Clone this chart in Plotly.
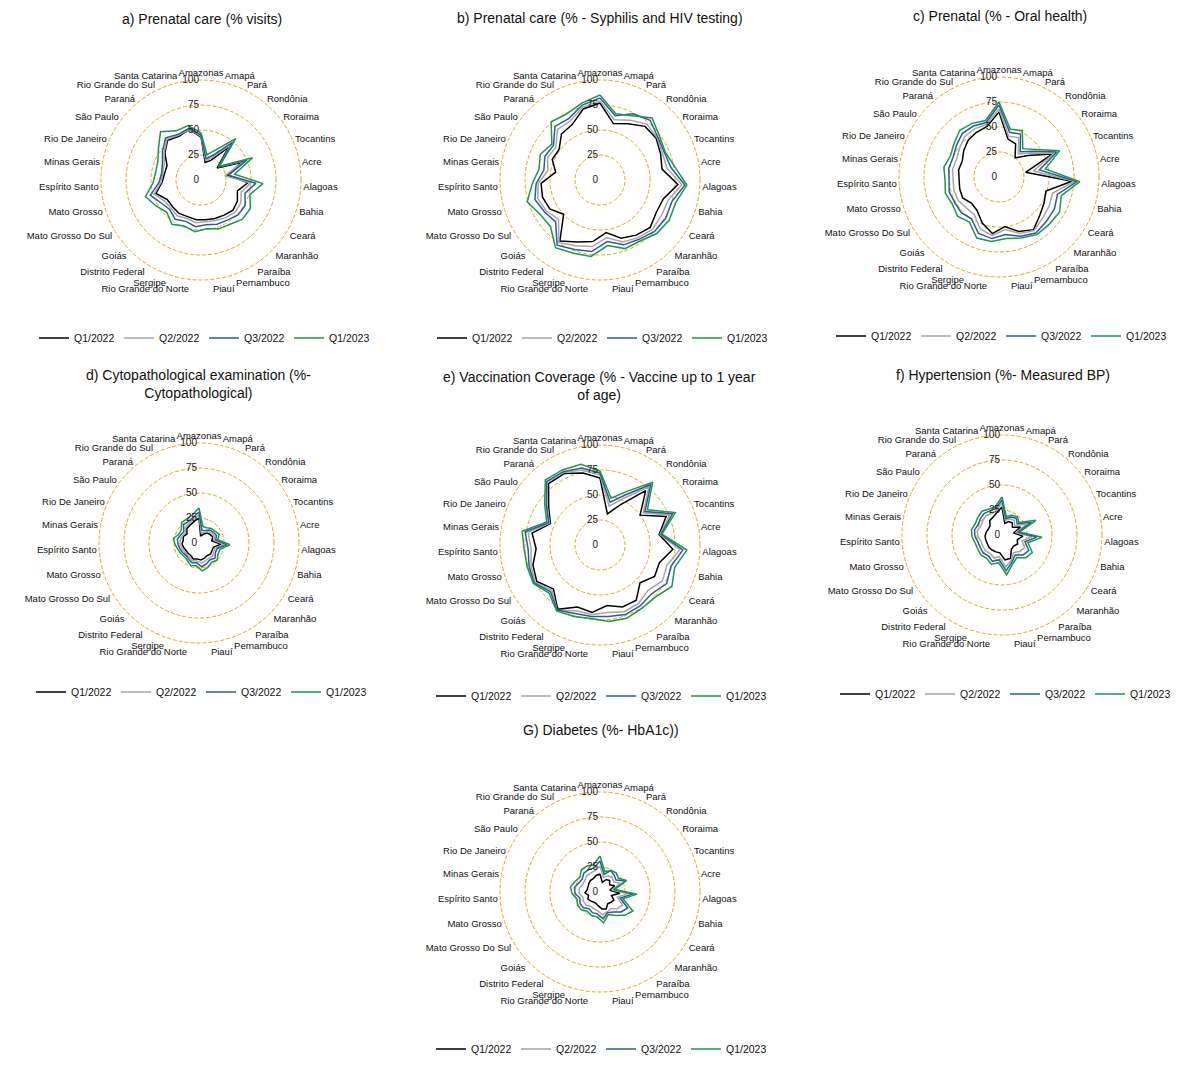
import plotly.graph_objects as go

# Brazilian states, clockwise from the top of each radar
states = ["Amazonas", "Amapá", "Pará", "Rondônia", "Roraima", "Tocantins", "Acre",
          "Alagoas", "Bahia", "Ceará", "Maranhão", "Paraíba", "Pernambuco", "Piauí",
          "Rio Grande do Norte", "Sergipe", "Distrito Federal", "Goiás",
          "Mato Grosso Do Sul", "Mato Grosso", "Espírito Santo", "Minas Gerais",
          "Rio De Janeiro", "São Paulo", "Paraná", "Rio Grande do Sul", "Santa Catarina"]

quarters = ["Q1/2022", "Q2/2022", "Q3/2022", "Q1/2023"]
radial_ticks = [0, 25, 50, 75, 100]

# a) Prenatal care (% visits)
a_q1_2022 = [43, 18, 22, 43, 20, 44, 27, 47, 38, 42, 44, 42, 41, 40, 40, 39, 40, 39, 39, 47, 39, 37, 37, 45, 52, 49, 52]
a_q2_2022 = [44, 20, 25, 46, 22, 47, 24, 50, 42, 46, 47, 45, 43, 42, 43, 41, 43, 41, 42, 49, 40, 39, 40, 46, 53, 50, 52]
a_q3_2022 = [45, 22, 28, 49, 22, 50, 28, 55, 46, 51, 51, 48, 47, 45, 47, 44, 47, 43, 46, 53, 42, 40, 42, 48, 55, 51, 53]
a_q1_2023 = [47, 26, 34, 54, 23, 56, 34, 62, 51, 57, 57, 53, 52, 49, 52, 49, 53, 47, 52, 58, 48, 46, 47, 53, 63, 55, 56]

# b) Prenatal care (% - Syphilis and HIV testing)
b_q1_2022 = [77, 58, 63, 70, 70, 66, 63, 78, 66, 65, 69, 66, 62, 53, 62, 66, 73, 50, 58, 60, 59, 45, 52, 51, 60, 62, 73]
b_q2_2022 = [79, 62, 67, 73, 71, 68, 68, 82, 71, 71, 72, 69, 66, 58, 67, 70, 75, 57, 62, 65, 62, 53, 57, 55, 66, 66, 75]
b_q3_2022 = [82, 66, 74, 78, 72, 70, 72, 85, 75, 76, 75, 71, 69, 62, 72, 74, 78, 61, 64, 68, 64, 57, 60, 58, 70, 69, 77]
b_q1_2023 = [85, 68, 72, 81, 74, 71, 76, 87, 79, 80, 78, 73, 73, 66, 77, 78, 81, 68, 69, 76, 68, 62, 65, 60, 76, 74, 79]

# c) Prenatal (% - Oral health)
c_q1_2022 = [65, 39, 37, 25, 36, 58, 27, 73, 49, 52, 56, 63, 58, 50, 57, 49, 40, 38, 42, 41, 40, 41, 40, 44, 48, 50, 52]
c_q2_2022 = [68, 42, 44, 30, 40, 60, 35, 76, 56, 58, 60, 64, 60, 53, 59, 55, 45, 45, 47, 47, 46, 47, 46, 49, 53, 54, 54]
c_q3_2022 = [72, 46, 48, 33, 43, 63, 41, 78, 61, 64, 65, 67, 63, 58, 62, 60, 50, 52, 51, 52, 50, 51, 50, 53, 57, 57, 56]
c_q1_2023 = [75, 49, 52, 37, 46, 66, 47, 81, 65, 70, 69, 69, 65, 62, 65, 65, 54, 57, 54, 56, 54, 56, 53, 56, 61, 60, 58]

# d) Cytopathological examination
d_q1_2022 = [25, 7, 10, 13, 14, 15, 13, 22, 15, 15, 16, 15, 16, 17, 16, 17, 15, 15, 15, 16, 17, 16, 17, 15, 19, 20, 22]
d_q2_2022 = [28, 10, 12, 15, 16, 17, 15, 25, 17, 17, 19, 18, 19, 20, 18, 19, 17, 17, 17, 18, 19, 19, 18, 17, 21, 22, 24]
d_q3_2022 = [31, 13, 14, 17, 18, 19, 17, 28, 19, 19, 22, 20, 22, 24, 20, 21, 19, 18, 19, 20, 21, 22, 20, 19, 24, 24, 26]
d_q1_2023 = [35, 17, 17, 19, 20, 22, 19, 31, 22, 22, 25, 23, 26, 28, 23, 24, 21, 20, 21, 22, 24, 26, 22, 22, 27, 27, 29]

# e) Vaccination coverage
e_q1_2022 = [67, 32, 45, 71, 50, 72, 60, 73, 62, 63, 55, 66, 66, 61, 68, 66, 77, 64, 73, 70, 64, 69, 54, 64, 80, 80, 74]
e_q2_2022 = [70, 40, 52, 76, 54, 76, 61, 80, 70, 72, 66, 70, 71, 68, 70, 70, 78, 66, 75, 72, 69, 73, 55, 66, 82, 81, 77]
e_q3_2022 = [72, 44, 56, 79, 56, 79, 62, 83, 74, 77, 71, 73, 74, 72, 72, 73, 78, 68, 76, 74, 72, 76, 56, 67, 83, 82, 79]
e_q1_2023 = [74, 48, 60, 82, 59, 82, 63, 87, 78, 83, 76, 76, 78, 77, 74, 76, 79, 70, 77, 76, 76, 79, 58, 69, 85, 84, 83]

# f) Hypertension (%- Measured BP)
f_q1_2022 = [28, 12, 15, 16, 13, 20, 12, 21, 16, 18, 16, 17, 25, 25, 18, 18, 18, 18, 17, 17, 17, 16, 15, 15, 19, 20, 23]
f_q2_2022 = [32, 15, 18, 19, 16, 27, 14, 30, 21, 26, 24, 21, 27, 32, 22, 24, 22, 23, 22, 22, 24, 25, 23, 24, 25, 24, 25]
f_q3_2022 = [35, 17, 20, 22, 19, 32, 16, 35, 24, 31, 29, 24, 29, 36, 25, 28, 25, 26, 25, 25, 27, 28, 26, 27, 28, 27, 27]
f_q1_2023 = [38, 19, 22, 24, 21, 37, 18, 40, 27, 35, 33, 27, 31, 40, 28, 31, 28, 29, 28, 28, 30, 31, 29, 30, 31, 29, 29]

# G) Diabetes (%- HbA1c)
g_q1_2022 = [18, 10, 14, 15, 12, 16, 10, 20, 12, 16, 15, 14, 18, 17, 14, 12, 12, 13, 14, 12, 15, 13, 13, 14, 15, 15, 17]
g_q2_2022 = [26, 15, 18, 19, 17, 22, 12, 28, 18, 26, 24, 20, 21, 23, 19, 18, 17, 19, 19, 18, 21, 21, 19, 19, 21, 21, 22]
g_q3_2022 = [31, 18, 24, 22, 20, 28, 14, 33, 21, 32, 29, 24, 22, 27, 22, 22, 20, 23, 23, 21, 25, 26, 23, 22, 25, 25, 25]
g_q1_2023 = [36, 21, 24, 25, 23, 29, 15, 37, 24, 38, 34, 28, 24, 31, 25, 25, 23, 26, 26, 24, 28, 30, 27, 25, 29, 29, 28]

titles = ["a) Prenatal care (% visits)",
          "b) Prenatal care (% - Syphilis and HIV testing)",
          "c) Prenatal (% - Oral health)",
          "d) Cytopathological examination (%-<br>Cytopathological)",
          "e) Vaccination Coverage (% - Vaccine up to 1 year<br>of age)",
          "f) Hypertension (%- Measured BP)",
          "G) Diabetes (%- HbA1c))"]

series = [[a_q1_2022, a_q2_2022, a_q3_2022, a_q1_2023],
          [b_q1_2022, b_q2_2022, b_q3_2022, b_q1_2023],
          [c_q1_2022, c_q2_2022, c_q3_2022, c_q1_2023],
          [d_q1_2022, d_q2_2022, d_q3_2022, d_q1_2023],
          [e_q1_2022, e_q2_2022, e_q3_2022, e_q1_2023],
          [f_q1_2022, f_q2_2022, f_q3_2022, f_q1_2023],
          [g_q1_2022, g_q2_2022, g_q3_2022, g_q1_2023]]

# Layout geometry: page pixels of the reference; the page body adds an 8px margin
OFF = 8
W, H = 1200 - OFF, 1066 - OFF
R = 102
centers = [(201, 180), (600, 180), (999, 177),
           (199, 543), (600, 545), (1002, 535),
           (600, 892)]
title_pos = [(202, 19), (600, 18), (1000, 16),
             (198, 384), (599, 386), (1003, 375),
             (601, 730)]
legend_pos = [(204, 338), (602, 338), (1001, 336),
              (201, 692), (601, 696), (1005, 694),
              (601, 1049)]

colors = ["#000000", "#A6A6A6", "#2E5C94", "#1E9650"]
font = "Liberation Sans, Arial, sans-serif"
grid_col = "#DDAA22"


def px(x):
    return (x - OFF) / W


def py(y):
    return 1 - (y - OFF) / H


fig = go.Figure()
layout = {}

for i, (title, data) in enumerate(zip(titles, series)):
    pid = "polar" if i == 0 else f"polar{i+1}"
    lid = "legend" if i == 0 else f"legend{i+1}"
    for name, vals, col in zip(quarters, data, colors):
        fig.add_trace(go.Scatterpolar(
            r=vals + vals[:1],
            theta=states + states[:1],
            mode="lines",
            name=name,
            line=dict(color=col, width=1.5),
            subplot=pid,
            legend=lid,
        ))

    cx, cy = centers[i]
    layout[pid] = dict(
        domain=dict(x=[px(cx - R), px(cx + R)],
                    y=[py(cy + R), py(cy - R)]),
        bgcolor="white",
        radialaxis=dict(range=[0, 102], tickvals=radial_ticks,
                        angle=90, side="counterclockwise", tickangle=90,
                        showline=False, ticks="",
                        gridcolor=grid_col, griddash="4px,2px", gridwidth=1,
                        tickfont=dict(size=10, color="#222", family=font)),
        angularaxis=dict(rotation=90, direction="clockwise",
                         showgrid=False, showline=False, ticks="",
                         tickfont=dict(size=9.5, color="#111", family=font)),
    )

    lx, ly = legend_pos[i]
    layout[lid] = dict(orientation="h", x=px(lx), y=py(ly),
                       xanchor="center", yanchor="middle",
                       xref="paper", yref="paper",
                       entrywidth=40, entrywidthmode="pixels", itemwidth=30,
                       bgcolor="rgba(0,0,0,0)",
                       font=dict(size=10.5, color="#111", family=font))

    tx, ty = title_pos[i]
    fig.add_annotation(text=title, x=px(tx), y=py(ty),
                       xref="paper", yref="paper", showarrow=False,
                       xanchor="center", yanchor="middle",
                       font=dict(size=14, color="#111", family=font))

fig.update_layout(
    width=W, height=H, autosize=False,
    margin=dict(l=0, r=0, t=0, b=0, autoexpand=False),
    paper_bgcolor="white",
    showlegend=True,
    **layout
)

fig.write_html("out.html")
